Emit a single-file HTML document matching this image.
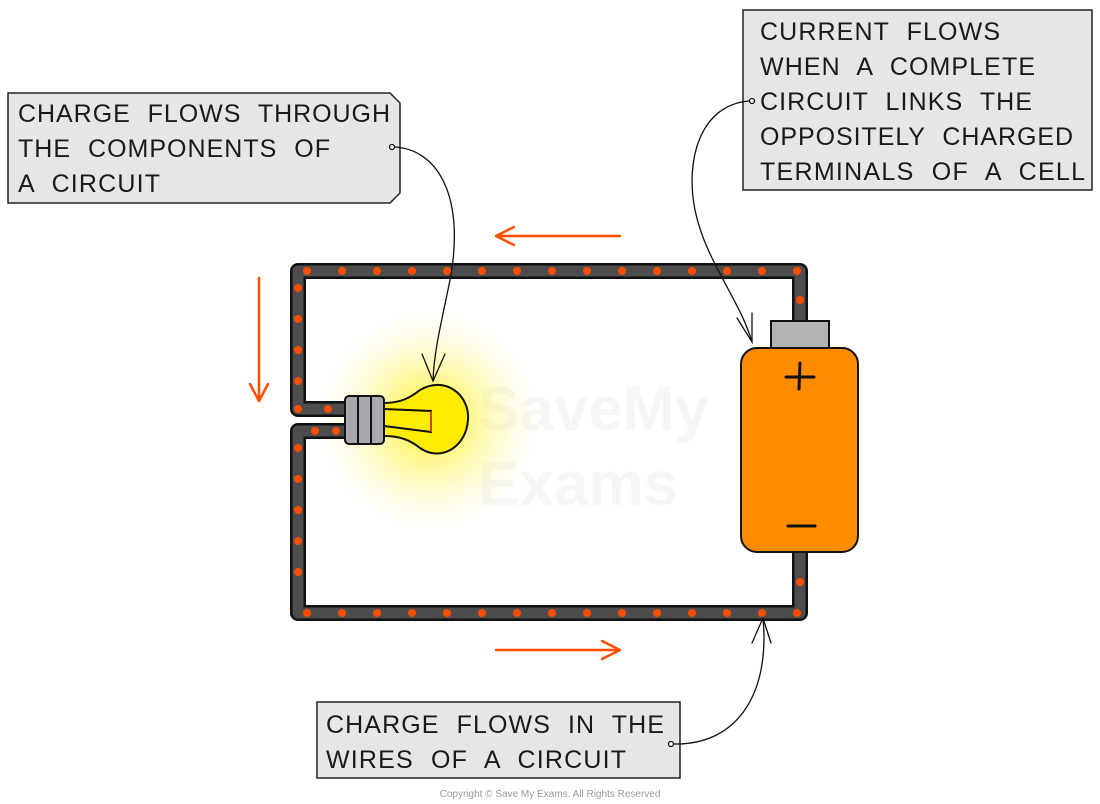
<!DOCTYPE html>
<html><head><meta charset="utf-8"><style>
html,body{margin:0;padding:0;background:#fff;width:1100px;height:804px;overflow:hidden}
svg text{font-family:"Liberation Sans",sans-serif;font-size:25px;fill:#1a1a1a;word-spacing:9px}
</style></head><body>
<svg id="s" width="1100" height="804" viewBox="0 0 1100 804" xmlns="http://www.w3.org/2000/svg">
<defs>
<radialGradient id="glow" cx="0.5" cy="0.5" r="0.5">
<stop offset="0" stop-color="#fff200" stop-opacity="0.9"/>
<stop offset="0.4" stop-color="#fff34d" stop-opacity="0.55"/>
<stop offset="1" stop-color="#fffbd0" stop-opacity="0"/>
</radialGradient>
</defs>
<text x="478" y="430" style="font-size:62px;font-weight:bold;fill:#f6f6f6">SaveMy</text>
<text x="478" y="505" style="font-size:62px;font-weight:bold;fill:#f6f6f6">Exams</text>
<circle cx="430" cy="420" r="115" fill="url(#glow)"/>
<g fill="none" stroke-linejoin="round" stroke-linecap="round">
<path d="M350 409 H298 V271 H800 V322 M800 552 V613 H298 V431 H350" stroke="#111" stroke-width="16"/>
<path d="M350 409 H298 V271 H800 V322 M800 552 V613 H298 V431 H350" stroke="#4d4d4d" stroke-width="11"/>
</g>
<g id="dots" fill="#ff4d00"></g>
<path d="M384 403 C400 403 410 398 420 390 C445 375 470 395 468 420 C466 448 440 462 420 448 C410 440 400 436 384 436 Z" fill="#ffec00" stroke="#111" stroke-width="2"/>
<path d="M384 409 L431 411 L431 432 L384 426" fill="none" stroke="#111" stroke-width="2"/>
<path d="M431 411 L431 432" stroke="#ff5a00" stroke-width="1.5"/>
<rect x="345" y="396" width="39" height="48" rx="4" fill="#a8a8ad" stroke="#111" stroke-width="2"/>
<line x1="358" y1="396" x2="358" y2="444" stroke="#111" stroke-width="2"/>
<line x1="371" y1="396" x2="371" y2="444" stroke="#111" stroke-width="2"/>
<rect x="771" y="321" width="58" height="28" fill="#b3b3b3" stroke="#111" stroke-width="2"/>
<rect x="741" y="348" width="117" height="204" rx="16" fill="#ff8c00" stroke="#111" stroke-width="2"/>
<path d="M786 377 H814 M800 363 L799 389" stroke="#111" stroke-width="3" stroke-linecap="round"/>
<path d="M788 526 H815" stroke="#111" stroke-width="3" stroke-linecap="round"/>
<g stroke="#ff4d00" stroke-width="2.5" fill="none" stroke-linecap="round" stroke-linejoin="round">
<path d="M620 236 H496 M514 227 L496 236 L514 245"/>
<path d="M259 278 V401 M250 384 L259 401 L268 384"/>
<path d="M496 650 H620 M602 641 L620 650 L602 659"/>
</g>
<g fill="#e6e6e6" stroke="#222" stroke-width="1.5">
<path d="M8 93 H390 L400 103 V193 L390 203 H8 Z"/>
<path d="M743 10 H1092 V190 H743 Z"/>
<path d="M317 702 H680 V778 H317 Z"/>
</g>
<text x="18" y="122" textLength="372" lengthAdjust="spacing">CHARGE FLOWS THROUGH</text>
<text x="18" y="157" textLength="312" lengthAdjust="spacing">THE COMPONENTS OF</text>
<text x="18" y="192" textLength="142" lengthAdjust="spacing">A CIRCUIT</text>
<text x="760" y="40" textLength="240" lengthAdjust="spacing">CURRENT FLOWS</text>
<text x="760" y="75" textLength="275" lengthAdjust="spacing">WHEN A COMPLETE</text>
<text x="760" y="110" textLength="272" lengthAdjust="spacing">CIRCUIT LINKS THE</text>
<text x="760" y="145" textLength="313" lengthAdjust="spacing">OPPOSITELY CHARGED</text>
<text x="760" y="180" textLength="325" lengthAdjust="spacing">TERMINALS OF A CELL</text>
<text x="326" y="733" textLength="338" lengthAdjust="spacing">CHARGE FLOWS IN THE</text>
<text x="326" y="768" textLength="300" lengthAdjust="spacing">WIRES OF A CIRCUIT</text>
<g fill="none" stroke="#111" stroke-width="1.3" stroke-linecap="round">
<circle cx="392" cy="147" r="2.5" fill="#fff"/>
<path d="M395 147 C440 150 465 200 450 280 C442 320 434 350 433 381"/>
<path d="M422 354 L433 381 L445 354"/>
<circle cx="752" cy="101" r="2.5" fill="#fff"/>
<path d="M749 101 C700 105 685 160 695 210 C705 260 740 300 752 342"/>
<path d="M737 318 L752 342 L752 313"/>
<circle cx="671" cy="744" r="2.5" fill="#fff"/>
<path d="M674 744 C740 745 770 690 763 618"/>
<path d="M752 643 L763 618 L771 643"/>
</g>
<text x="550" y="797" text-anchor="middle" style="font-size:10px;fill:#999;word-spacing:0">Copyright © Save My Exams. All Rights Reserved</text>
</svg>
<script>
var g=document.getElementById('dots'),ns='http://www.w3.org/2000/svg';
function d(x,y){var c=document.createElementNS(ns,'circle');c.setAttribute('cx',x);c.setAttribute('cy',y);c.setAttribute('r',4);g.appendChild(c);}
for(var x=307;x<=800;x+=35)d(x,271);
for(var y=288;y<=390;y+=31)d(298,y);
d(298,409);d(328,409);
for(var x=307;x<=800;x+=35)d(x,613);
for(var y=448;y<=600;y+=31)d(298,y);
d(315,431);d(336,431);
d(800,300);d(800,582);
</script>
</body></html>
